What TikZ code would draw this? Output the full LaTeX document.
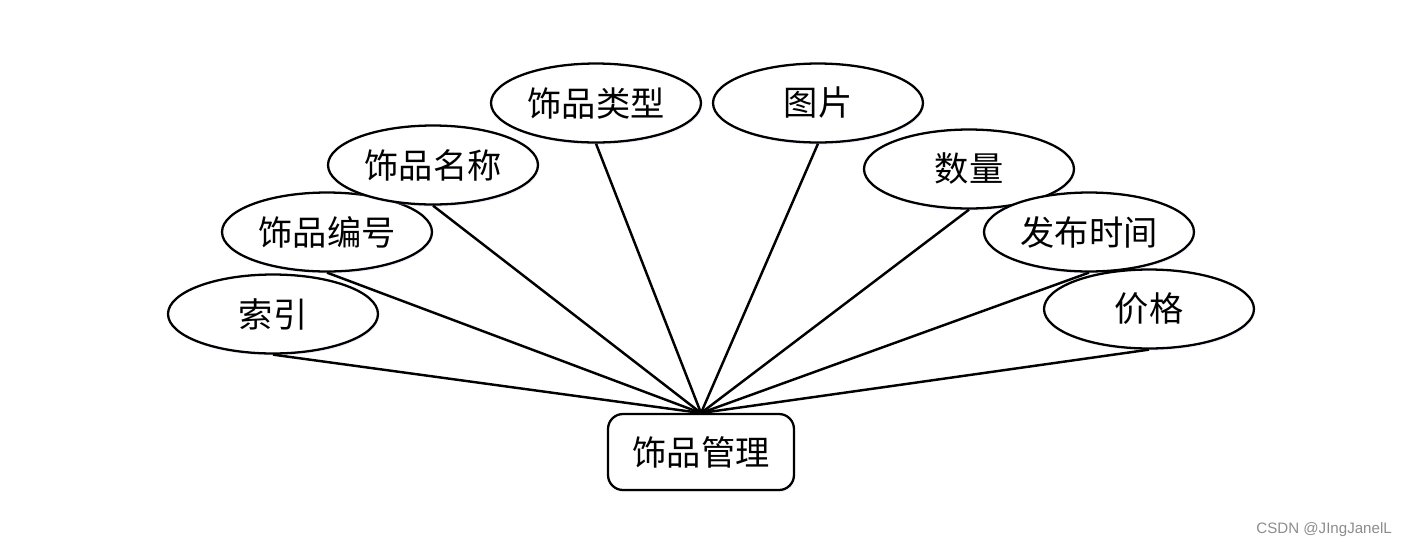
\documentclass[tikz,border=0pt]{standalone}
\usepackage{fontspec}
\newfontfamily\cjk{Noto Sans CJK SC}
\setsansfont{Liberation Sans}
\usetikzlibrary{shapes.geometric,shadows}
\tikzset{
  attr/.style={ellipse, draw=black, line width=1.3pt, fill=white, minimum width=4.2cm, minimum height=1.58cm, inner sep=0pt,
    font=\cjk\fontsize{19.5}{22}\selectfont,
    drop shadow={shadow xshift=0.6pt, shadow yshift=-1.2pt, opacity=0.3, fill=blue!20}},
  entity/.style={rectangle, rounded corners=0.3cm, draw=black, line width=1.3pt, fill=white, minimum width=3.72cm, minimum height=1.52cm, inner sep=0pt,
    font=\cjk\fontsize{19.5}{22}\selectfont,
    drop shadow={shadow xshift=0.6pt, shadow yshift=-1.2pt, opacity=0.3, fill=blue!20}},
  link/.style={line width=1.4pt, draw=black}
}
\begin{document}
\begin{tikzpicture}[x=0.02cm, y=-0.02cm]
\useasboundingbox (0,0) rectangle (1411,549);
\node[entity] (mgr) at (701,452) {饰品管理};
\node[attr] (a1) at (273,314) {索引};
\node[attr] (a2) at (327,232) {饰品编号};
\node[attr] (a3) at (433,165) {饰品名称};
\node[attr] (a4) at (596,103) {饰品类型};
\node[attr] (a5) at (818,103) {图片};
\node[attr] (a6) at (969,169) {数量};
\node[attr] (a7) at (1089,232) {发布时间};
\node[attr] (a8) at (1149,309) {价格};
\coordinate (hub) at (701,413);
\foreach \n in {a1,a2,a3,a4,a5,a6,a7,a8}{
  \draw[link] (\n.south) -- (hub);
}
\node[font=\sffamily\fontsize{8.6}{10}\selectfont, text=black!45, anchor=east] (wm) at (1398,530) {CSDN @JIngJanelL};
\end{tikzpicture}
\end{document}
